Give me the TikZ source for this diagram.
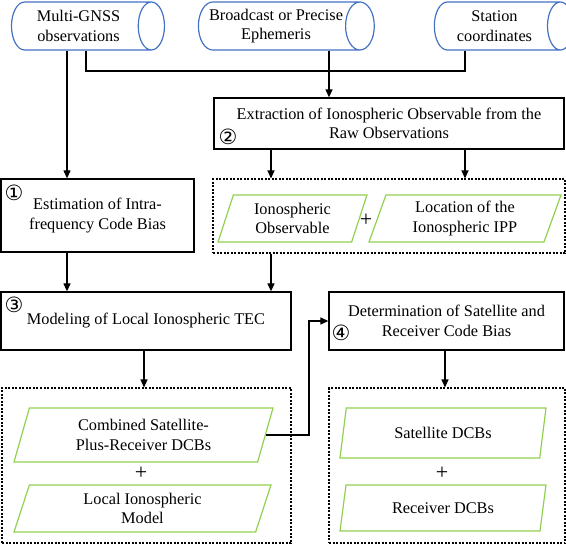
\documentclass[tikz,border=0pt]{standalone}
\usepackage{fontspec}
\setmainfont{Liberation Serif}
\newfontfamily\numfont{DejaVu Sans}
\usetikzlibrary{arrows.meta,positioning,shapes.geometric,calc}
\definecolor{drumblue}{HTML}{4472C4}
\definecolor{resgreen}{HTML}{92D050}

\begin{document}
\begin{tikzpicture}[
  x=1pt, y=-1pt,
  font=\fontsize{16.3}{19.5}\selectfont,
  box/.style={rectangle, draw, line width=1.3pt, align=center, inner sep=2pt},
  drum/.style={cylinder, draw=drumblue, line width=1.2pt, fill=white, aspect=0.75, align=center, inner sep=2pt},
  group/.style={rectangle, draw, line width=1.1pt, dash pattern=on 2pt off 1.5pt},
  result/.style={trapezium, trapezium left angle=65, trapezium right angle=115, trapezium stretches body, draw=resgreen, line width=1.2pt, align=center, inner sep=1pt},
  plus/.style={inner sep=0pt, font=\fontsize{22}{22}\selectfont},
  num/.style={inner sep=0pt, font=\numfont\fontsize{21}{21}\selectfont},
  arrow/.style={-{Triangle[length=8pt,width=7pt]}, line width=1.2pt}
]
\useasboundingbox (0,0) rectangle (566,544);

% Input data
\node[drum, minimum height=153, minimum width=48] (gnss) at (78.5,26) {Multi-GNSS\\observations};
\node[drum, minimum height=170, minimum width=48] (ephem) at (276,26) {Broadcast or Precise\\Ephemeris};
\node[drum, minimum height=139, minimum width=48] (station) at (494.5,26) {Station\\coordinates};

% Processing steps
\node[box, minimum width=350, minimum height=51] (extract) at (389,123.5) {Extraction of Ionospheric Observable from the\\Raw Observations};
\node[box, minimum width=193, minimum height=73] (intra) at (97.5,215.5) {Estimation of Intra-\\frequency Code Bias};
\node[box, minimum width=290, minimum height=58] (model) at (146,321) {Modeling of Local Ionospheric TEC};
\node[box, minimum width=235, minimum height=58] (determ) at (446.5,321) {Determination of Satellite and\\Receiver Code Bias};

% Step numbers
\node[num] (n1) at (14,193) {①};
\node[num] (n2) at (228,137) {②};
\node[num] (n3) at (14,305) {③};
\node[num] (n4) at (341,333) {④};

% Result groups
\node[group, minimum width=352, minimum height=74] (obsgrp) at (389,216) {};
\node[group, minimum width=289, minimum height=155] (tecgrp) at (146.5,465.5) {};
\node[group, minimum width=236, minimum height=155] (dcbgrp) at (447,465.5) {};

% Results
\node[result, minimum width=149, minimum height=47] (ionobs) at (292.5,218.5) {Ionospheric\\Observable};
\node[result, minimum width=192, minimum height=47] (ipp) at (465,218.5) {Location of the\\Ionospheric IPP};
\node[plus] (plus1) at (366,220) {+};
\node[result, minimum width=259, minimum height=54] (comb) at (143.5,435) {Combined Satellite-\\Plus-Receiver DCBs};
\node[plus] (plus2) at (141,473) {+};
\node[result, minimum width=257, minimum height=47] (local) at (142.5,508.5) {Local Ionospheric\\Model};
\node[result, minimum width=206, minimum height=50] (satdcb) at (443,433) {Satellite DCBs};
\node[plus] (plus3) at (442,473) {+};
\node[result, minimum width=206, minimum height=46] (recdcb) at (443,508) {Receiver DCBs};

% Arrows
\coordinate (bus) at (329,71);
\draw[line width=1.2pt] ([xshift=7.5pt]gnss.south) |- (bus) -| ([xshift=-29.5pt]station.south);
\draw[arrow] ([xshift=53pt]ephem.south) -- ([xshift=53pt]ephem.south |- extract.north);
\draw[arrow] ([xshift=-11.5pt]gnss.south) -- ([xshift=-11.5pt]gnss.south |- intra.north);
\draw[arrow] ([xshift=-118pt]extract.south) -- ([xshift=-118pt]extract.south |- obsgrp.north);
\draw[arrow] ([xshift=76pt]extract.south) -- ([xshift=76pt]extract.south |- obsgrp.north);
\draw[arrow] ([xshift=-30.5pt]intra.south) -- ([xshift=-30.5pt]intra.south |- model.north);
\draw[arrow] ([xshift=-118pt]obsgrp.south) -- ([xshift=-118pt]obsgrp.south |- model.north);
\draw[arrow] ([xshift=-2pt]model.south) -- ([xshift=-2pt]model.south |- tecgrp.north);
\draw[arrow] ([xshift=-1.5pt]determ.south) -- ([xshift=-1.5pt]determ.south |- dcbgrp.north);
\draw[arrow] (comb.east) -- ++(43,0) |- (determ.west);

\end{tikzpicture}
\end{document}
